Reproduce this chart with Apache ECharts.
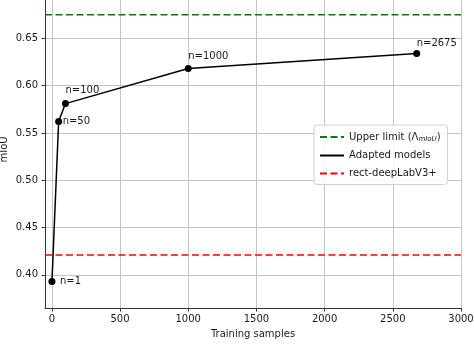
<!DOCTYPE html>
<html>
<head>
<meta charset="utf-8">
<script src="https://cdn.jsdelivr.net/npm/echarts@6/dist/echarts.min.js"></script>
<style>
html,body{margin:0;padding:0;background:#fff;}
#chart{width:474px;height:359px;}
</style>
</head>
<body>
<div id="chart"></div>
<script>
// ---- data ----
const samples = [1, 50, 100, 1000, 2675];
const miou = [0.393, 0.562, 0.581, 0.618, 0.634];
const pointLabels = ['n=1', 'n=50', 'n=100', 'n=1000', 'n=2675'];
const upperLimit = 0.675;
const baselineMiou = 0.421;
const xTicks = [0, 500, 1000, 1500, 2000, 2500, 3000];
const yTicks = [0.40, 0.45, 0.50, 0.55, 0.60, 0.65];
const xRange = [-50, 3000];
const yRange = [0.365, 0.70];
const seriesNames = ['Upper limit (\u039BmIoU)', 'Adapted models', 'rect-deepLabV3+'];

// ---- styles (not data) ----
const labelOffsets = [[8, 0], [4, 0], [0, -13], [0, -12], [0, -10]];
const FONT = 'DejaVu Sans';
const TXT = '#1a1a1a';

const chart = echarts.init(document.getElementById('chart'), null, {renderer: 'canvas'});

const pts = samples.map((x, i) => ({
  value: [x, miou[i]],
  label: {
    show: true,
    formatter: pointLabels[i],
    position: 'inside',
    align: 'left',
    verticalAlign: 'middle',
    offset: labelOffsets[i],
    color: TXT,
    fontSize: 10,
    fontFamily: FONT
  }
}));

const option = {
  backgroundColor: '#fff',
  animation: false,
  grid: {left: 45, right: 13, top: -9, bottom: 51, containLabel: false, outerBoundsMode: 'none'},
  xAxis: {
    type: 'value',
    min: xRange[0], max: xRange[1],
    name: 'Training samples',
    nameLocation: 'middle',
    nameGap: 21,
    nameMoveOverlap: false,
    nameTextStyle: {color: TXT, fontSize: 10, fontFamily: FONT},
    axisLine: {show: true, onZero: false, lineStyle: {color: '#333', width: 1}},
    axisTick: {show: true, length: 3.5, customValues: xTicks, lineStyle: {color: '#333'}},
    axisLabel: {customValues: xTicks, margin: 6, color: TXT, fontSize: 10, fontFamily: FONT,
      formatter: v => String(Math.round(v))},
    splitLine: {show: true, lineStyle: {color: '#c4c4c4', width: 1}}
  },
  yAxis: {
    type: 'value',
    min: yRange[0], max: yRange[1],
    name: 'mIoU',
    nameLocation: 'middle',
    nameGap: 36,
    nameMoveOverlap: false,
    nameTextStyle: {color: TXT, fontSize: 10, fontFamily: FONT},
    axisLine: {show: true, onZero: false, lineStyle: {color: '#333', width: 1}},
    axisTick: {show: true, length: 3.5, customValues: yTicks, lineStyle: {color: '#333'}},
    axisLabel: {customValues: yTicks, margin: 7, color: TXT, fontSize: 10, fontFamily: FONT,
      formatter: v => v.toFixed(2)},
    splitLine: {show: true, lineStyle: {color: '#c4c4c4', width: 1}}
  },
  legend: {
    orient: 'vertical',
    left: 314, top: 125,
    padding: [7, 7, 6, 5],
    itemGap: 8,
    itemWidth: 24,
    itemHeight: 10,
    backgroundColor: 'rgba(255,255,255,0.85)',
    borderColor: '#d0d0d0',
    borderWidth: 1,
    borderRadius: 3,
    itemStyle: {color: 'rgba(0,0,0,0)', borderWidth: 0, opacity: 0},
    data: seriesNames,
    formatter: function (name) {
      if (name === seriesNames[0]) return 'Upper limit (\u039B{sub|mIoU})';
      return name;
    },
    textStyle: {
      color: TXT, fontSize: 10, fontFamily: FONT,
      rich: {sub: {fontSize: 7, fontStyle: 'italic', fontFamily: FONT, color: TXT, verticalAlign: 'bottom', padding: [4, 0, 0, 0]}}
    }
  },
  series: [
    {
      name: seriesNames[0],
      type: 'line',
      data: [[xRange[0], upperLimit], [xRange[1], upperLimit]],
      symbol: 'none',
      lineStyle: {color: '#008000', width: 1.5, type: [7, 3.5]},
      itemStyle: {color: '#008000'},
      z: 3
    },
    {
      name: seriesNames[1],
      type: 'line',
      data: samples.map((x, i) => [x, miou[i]]),
      symbol: 'none',
      lineStyle: {color: '#000', width: 1.5},
      itemStyle: {color: '#000'},
      z: 4
    },
    {
      name: 'points',
      type: 'scatter',
      data: pts,
      symbol: 'circle',
      symbolSize: 7,
      itemStyle: {color: '#000', opacity: 1},
      z: 5
    },
    {
      name: seriesNames[2],
      type: 'line',
      data: [[xRange[0], baselineMiou], [xRange[1], baselineMiou]],
      symbol: 'none',
      lineStyle: {color: '#ff0000', width: 1.5, type: [7, 3.5]},
      itemStyle: {color: '#ff0000'},
      z: 3
    }
  ]
};
chart.setOption(option);
</script>
</body>
</html>
